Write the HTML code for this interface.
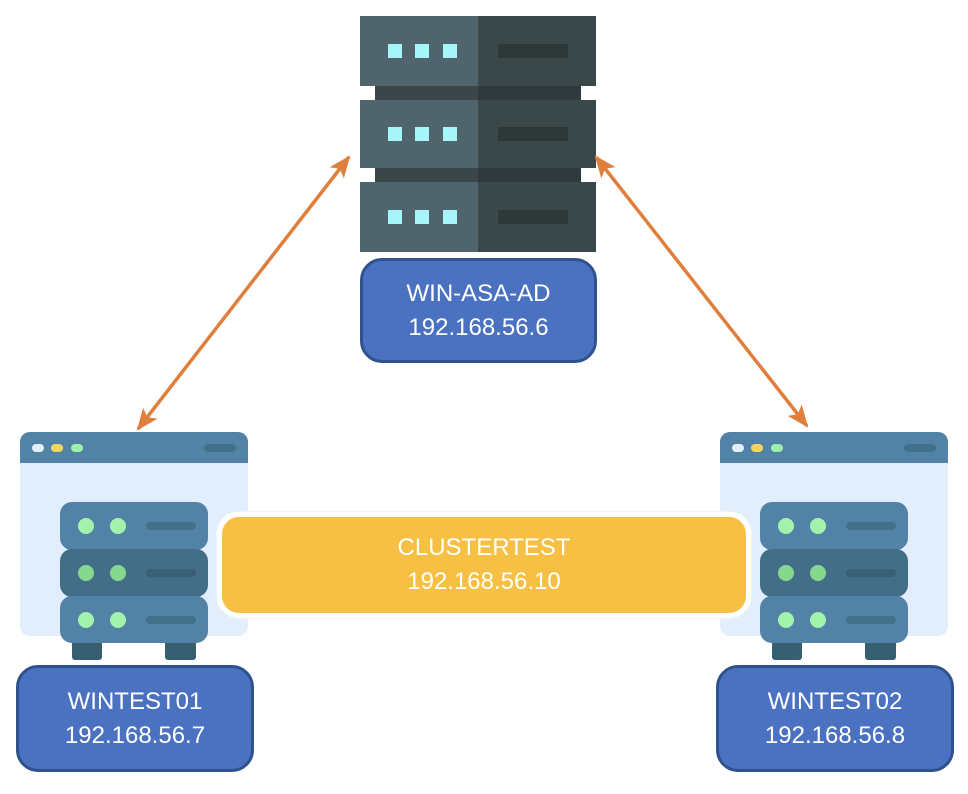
<!DOCTYPE html>
<html><head><style>
body{margin:0;width:968px;height:794px;background:#fff;overflow:hidden;position:relative;font-family:"Liberation Sans",sans-serif}
.box{position:absolute;box-sizing:border-box;background:#4a72c0;border:3px solid #2f528f;border-radius:22px;color:#fff;font-size:24px;line-height:34px;text-align:center;display:flex;align-items:center;justify-content:center}
.y{position:absolute;box-sizing:border-box;background:#f5c043;border:5px solid #fff;border-radius:22px;color:#fff;font-size:24px;line-height:34px;text-align:center;display:flex;align-items:center;justify-content:center;box-shadow:0 0 0 1px #eef3fb}
</style></head><body>
<svg width="968" height="794" style="position:absolute;left:0;top:0">
<defs>
<marker id="b" markerWidth="22" markerHeight="18" refX="20" refY="9" orient="auto-start-reverse" markerUnits="userSpaceOnUse"><path d="M0,0 L22,9 L0,18 L5,9 Z" fill="#e07e3c"/></marker>
<g id="srv">
<rect x="0" y="0" width="228" height="204" rx="10" fill="#e2eefb"/>
<path d="M10,0 H218 A10,10 0 0 1 228,10 V31 H0 V10 A10,10 0 0 1 10,0Z" fill="#5283a6"/>
<rect x="12" y="12" width="12" height="8" rx="4" fill="#e2eefb"/>
<rect x="31" y="12" width="12" height="8" rx="4" fill="#f4d461"/>
<rect x="51" y="12" width="12" height="8" rx="4" fill="#9ef0a8"/>
<rect x="184" y="12" width="32" height="8" rx="4" fill="#417088"/>
<rect x="52" y="208" width="30" height="20" rx="3" fill="#365f70"/>
<rect x="145" y="208" width="31" height="20" rx="3" fill="#365f70"/>
<rect x="40" y="70" width="148" height="48" rx="12" fill="#5283a6"/>
<rect x="40" y="117" width="148" height="48" rx="12" fill="#426e87"/>
<rect x="40" y="164" width="148" height="47" rx="12" fill="#5283a6"/>
<circle cx="66" cy="94" r="8" fill="#a1f2ab"/><circle cx="98" cy="94" r="8" fill="#a1f2ab"/>
<circle cx="66" cy="141" r="8" fill="#86d88f"/><circle cx="98" cy="141" r="8" fill="#86d88f"/>
<circle cx="66" cy="188" r="8" fill="#a1f2ab"/><circle cx="98" cy="188" r="8" fill="#a1f2ab"/>
<rect x="126" y="90" width="50" height="8" rx="4" fill="#417088"/>
<rect x="126" y="137" width="50" height="8" rx="4" fill="#395f75"/>
<rect x="126" y="184" width="50" height="8" rx="4" fill="#417088"/>
</g>
</defs>
<use href="#srv" x="20" y="432"/>
<use href="#srv" x="720" y="432"/>
<rect x="375" y="86" width="206" height="96" fill="#3a4647"/>
<rect x="478" y="86" width="103" height="96" fill="#2e3a3b"/>
<g>
<rect x="360" y="16" width="118" height="70" fill="#4f646c"/><rect x="478" y="16" width="118" height="70" fill="#3b4849"/>
<rect x="360" y="100" width="118" height="68" fill="#4f646c"/><rect x="478" y="100" width="118" height="68" fill="#3b4849"/>
<rect x="360" y="182" width="118" height="70" fill="#4f646c"/><rect x="478" y="182" width="118" height="70" fill="#3b4849"/>
</g>
<g fill="#a6f5f8">
<rect x="388" y="44" width="14" height="14"/><rect x="415" y="44" width="14" height="14"/><rect x="443" y="44" width="14" height="14"/>
<rect x="388" y="127" width="14" height="14"/><rect x="415" y="127" width="14" height="14"/><rect x="443" y="127" width="14" height="14"/>
<rect x="388" y="210" width="14" height="14"/><rect x="415" y="210" width="14" height="14"/><rect x="443" y="210" width="14" height="14"/>
</g>
<g fill="#2d3839">
<rect x="498" y="44" width="70" height="14"/><rect x="498" y="127" width="70" height="14"/><rect x="498" y="210" width="70" height="14"/>
</g>
<line x1="349" y1="157" x2="138" y2="429" stroke="#e07e3c" stroke-width="3.5" marker-start="url(#b)" marker-end="url(#b)"/>
<line x1="596" y1="157" x2="807" y2="426" stroke="#e07e3c" stroke-width="3.5" marker-start="url(#b)" marker-end="url(#b)"/>
</svg>
<div class="box" style="left:360px;top:258px;width:237px;height:105px">WIN-ASA-AD<br>192.168.56.6</div>
<div class="y" style="left:217px;top:512px;width:534px;height:106px">CLUSTERTEST<br>192.168.56.10</div>
<div class="box" style="left:16px;top:665px;width:238px;height:107px">WINTEST01<br>192.168.56.7</div>
<div class="box" style="left:716px;top:665px;width:238px;height:107px">WINTEST02<br>192.168.56.8</div>
</body></html>
